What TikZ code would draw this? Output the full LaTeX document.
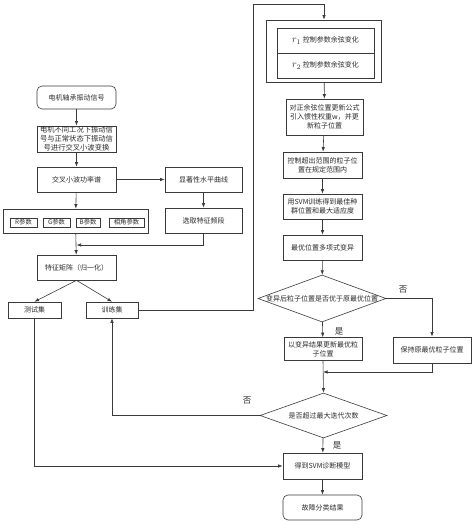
\documentclass[tikz,border=0pt]{standalone}
\usepackage{fontspec}
\setmainfont{Noto Sans CJK SC}
\usetikzlibrary{arrows.meta,shapes.geometric}
\definecolor{lc}{HTML}{3A3A3A}
\definecolor{tc}{HTML}{2A2A2A}
\newcommand{\rsym}[1]{{\fontsize{10}{10}\selectfont$r_{#1}$}}
\begin{document}
\begin{tikzpicture}[x=1pt,y=-1pt,
  every path/.style={line width=0.6pt},
  conn/.style={draw=lc, line width=0.6pt},
  arr/.style={conn, -{Latex[length=4.5pt,width=3.4pt]}},
  box/.style={draw=lc, fill=white, line width=0.6pt, inner sep=1pt, align=center, text=tc,
              font=\fontsize{7}{9}\selectfont},
  rbox/.style={box, rounded corners=5pt},
  pbox/.style={box, inner sep=0.5pt, font=\fontsize{6.3}{7}\selectfont},
  dia/.style={draw=lc, fill=white, diamond, line width=0.6pt, inner sep=0pt, text=tc,
              font=\fontsize{7}{9}\selectfont},
  lab/.style={text=tc, font=\fontsize{8.5}{9}\selectfont, inner sep=0pt}]
\useasboundingbox (0,0) rectangle (474,524);

% left column
\node[rbox, minimum width=79pt, minimum height=23pt] (start) at (76.5,97.5) {电机轴承振动信号};
\node[box, minimum width=79pt, minimum height=26pt, font=\fontsize{7.3}{8.8}\selectfont] (cwt) at (76.5,139)
  {电机不同工况下振动信\\号与正常状态下振动信\\号进行交叉小波变换};
\node[box, minimum width=79pt, minimum height=25pt] (power) at (76.5,179.5) {交叉小波功率谱};
\node[box, minimum width=77pt, minimum height=25pt] (sig) at (203.5,179.5) {显著性水平曲线};
\node[box, minimum width=77pt, minimum height=25pt] (select) at (203.5,220.5) {选取特征频段};
\node[box, minimum width=145pt, minimum height=24pt] (params) at (75.5,221) {};
\node[pbox, minimum width=27pt, minimum height=9pt] (pR) at (23.5,222.5) {R参数};
\node[pbox, minimum width=27pt, minimum height=9pt] (pG) at (56.5,222.5) {G参数};
\node[pbox, minimum width=24pt, minimum height=9pt] (pB) at (88,222.5) {B参数};
\node[pbox, minimum width=35pt, minimum height=9pt] (pA) at (126.5,222.5) {相角参数};
\node[box, minimum width=79pt, minimum height=25pt] (feat) at (76.5,267.5) {特征矩阵（归一化）};
\node[box, minimum width=53pt, minimum height=16pt] (test) at (34.5,310) {测试集};
\node[box, minimum width=52pt, minimum height=16pt] (train) at (112,310) {训练集};

% right column
\node[box, minimum width=115pt, minimum height=62pt] (cont) at (324,51) {};
\node[box, minimum width=97pt, minimum height=25pt] (r1) at (325.5,40.5) {\rsym{1} 控制参数余弦变化};
\node[box, minimum width=97pt, minimum height=25pt] (r2) at (325.5,65.5) {\rsym{2} 控制参数余弦变化};
\node[box, minimum width=77pt, minimum height=36pt] (upd) at (324.5,117)
  {对正余弦位置更新公式\\引入惯性权重w，并更\\新粒子位置};
\node[box, minimum width=79pt, minimum height=26pt] (ctrl) at (322.5,165)
  {控制超出范围的粒子位\\置在规定范围内};
\node[box, minimum width=79pt, minimum height=25pt] (svm) at (322.5,206.5)
  {用SVM训练得到最佳种\\群位置和最大适应度};
\node[box, minimum width=79pt, minimum height=25pt] (mut) at (322.5,247.5) {最优位置多项式变异};
\node[dia, minimum width=128pt, minimum height=47pt] (d1) at (322,298.5)
  {\makebox[0pt][c]{变异后粒子位置是否优于原最优位置}};
\node[box, minimum width=78pt, minimum height=23pt] (upd2) at (323,349)
  {以变异结果更新最优粒\\子位置};
\node[box, minimum width=78pt, minimum height=26pt] (keep) at (432,350) {保持原最优粒子位置};
\node[dia, minimum width=127pt, minimum height=45pt] (d2) at (323.5,415.5)
  {\makebox[0pt][c]{是否超过最大迭代次数}};
\node[box, minimum width=79pt, minimum height=26pt] (model) at (322.5,466) {得到SVM诊断模型};
\node[rbox, minimum width=79pt, minimum height=25pt] (result) at (322.5,507.5) {故障分类结果};

% junction coordinates
\coordinate (j1) at (76.5,245);
\coordinate (j2) at (323,372);

% connectors, left
\draw[arr] (start) -- (cwt);
\draw[arr] (cwt) -- (power);
\draw[arr] (power) -- (sig);
\draw[arr] (sig) -- (select);
\draw[arr] (power) -- (params);
\draw[arr] (params) -- (feat);
\draw[arr] (select.south) |- (j1);
\draw[arr] (feat.south) -- (test.north);
\draw[arr] (feat.south) -- (train.north);
\draw[arr] (train.east) -- (253,310) -- (253,4) -| (cont.north);

% connectors, right
\draw[arr] (cont) -- (upd);
\draw[arr] (upd) -- (ctrl);
\draw[arr] (ctrl) -- (svm);
\draw[arr] (svm) -- (mut);
\draw[arr] (mut) -- (d1);
\draw[arr] (d1) -- (upd2);
\draw[arr] (d1.east) -| (keep.north);
\draw[arr] (keep.south) |- (j2);
\draw[arr] (upd2.south) -- (d2.north);
\draw[arr] (d2) -- (model);
\draw[arr] (d2.west) -| (train.south);
\draw[arr] (test.south) |- (model.west);
\draw[arr] (model) -- (result);

% labels
\node[lab] (no1) at (403,290) {否};
\node[lab] (yes1) at (339,331) {是};
\node[lab] (no2) at (247,401) {否};
\node[lab] (yes2) at (337,445) {是};
\end{tikzpicture}
\end{document}
